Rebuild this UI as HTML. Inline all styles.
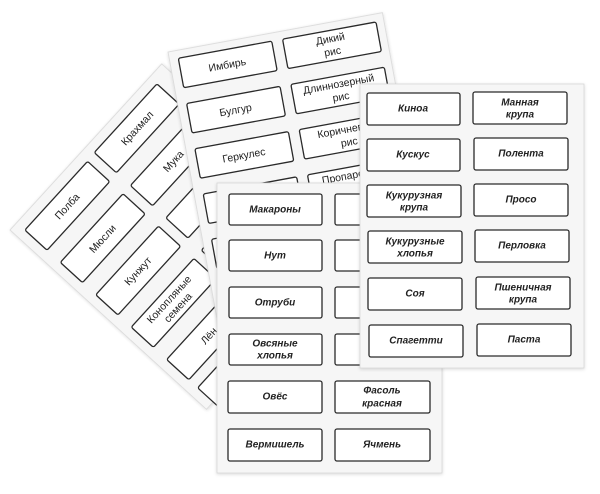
<!DOCTYPE html>
<html><head><meta charset="utf-8"><style>
html,body{margin:0;padding:0;background:#fff;width:600px;height:494px;overflow:hidden}
svg{display:block}
text{font-family:"Liberation Sans","DejaVu Sans",sans-serif;fill:#222;font-size:10.5px;text-anchor:middle;dominant-baseline:middle}
.it{font-style:italic;font-weight:bold;font-size:10px}
.lb{fill:#fff;stroke:#2a2a2a;stroke-width:1.3}
.sh{fill:#f6f6f6;stroke:#d8d8d8;stroke-width:0.8}
</style></head><body>
<svg width="600" height="494" viewBox="0 0 600 494">
<defs><filter id="f" x="-10%" y="-10%" width="120%" height="120%"><feDropShadow dx="0" dy="1" stdDeviation="1.5" flood-color="#000" flood-opacity="0.15"/></filter></defs>

<!-- Sheet A -->
<g transform="translate(10,230) rotate(-47.6)">
<rect class="sh" x="0" y="0" width="225" height="266" filter="url(#f)"/>
<rect class="lb" x="10" y="11" width="93" height="30" rx="2"/><text x="56" y="27">Полба</text>
<rect class="lb" x="114" y="10" width="93" height="30" rx="2"/><text x="161" y="26">Крахмал</text>
<rect class="lb" x="10" y="59" width="93" height="30" rx="2"/><text x="56" y="75">Мюсли</text>
<rect class="lb" x="114" y="59" width="93" height="30" rx="2"/><text x="161" y="75">Мука</text>
<rect class="lb" x="10" y="107" width="93" height="30" rx="2"/><text x="56" y="123">Кунжут</text>
<rect class="lb" x="114" y="107" width="93" height="30" rx="2"/>
<rect class="lb" x="10" y="155" width="93" height="30" rx="2"/><text x="56" y="165">Конопляные</text><text x="56" y="177">семена</text>
<rect class="lb" x="114" y="155" width="93" height="30" rx="2"/>
<rect class="lb" x="10" y="203" width="93" height="30" rx="2"/><text x="56" y="219">Лён</text>
<rect class="lb" x="10" y="245" width="93" height="30" rx="2"/>
</g>

<!-- Sheet B -->
<g transform="translate(168,52) rotate(-10.4)">
<rect class="sh" x="0" y="0" width="218" height="300" filter="url(#f)"/>
<rect class="lb" x="9" y="8" width="95" height="30" rx="2"/><text x="56" y="24">Имбирь</text>
<rect class="lb" x="115" y="8" width="95" height="30" rx="2"/><text x="162" y="17">Дикий</text><text x="162" y="30">рис</text>
<rect class="lb" x="9" y="54" width="95" height="30" rx="2"/><text x="56" y="70">Булгур</text>
<rect class="lb" x="115" y="54" width="95" height="30" rx="2"/><text x="162" y="63">Длиннозерный</text><text x="162" y="76">рис</text>
<rect class="lb" x="9" y="100" width="95" height="30" rx="2"/><text x="56" y="116">Геркулес</text>
<rect class="lb" x="115" y="100" width="95" height="30" rx="2"/><text x="162" y="109">Коричневый</text><text x="162" y="122">рис</text>
<rect class="lb" x="9" y="146" width="95" height="30" rx="2"/>
<rect class="lb" x="115" y="146" width="95" height="30" rx="2"/><text x="162" y="155">Пропаренный</text>
<rect class="lb" x="9" y="192" width="95" height="30" rx="2"/>
<rect class="lb" x="9" y="238" width="95" height="30" rx="2"/>
</g>

<!-- Sheet C -->
<g>
<rect class="sh" x="217" y="183" width="225" height="290" filter="url(#f)"/>
<rect class="lb" x="229" y="194" width="93" height="31" rx="2"/><text class="it" x="275" y="210">Макароны</text>
<rect class="lb" x="335" y="194" width="95" height="31" rx="2"/>
<rect class="lb" x="229" y="240" width="93" height="31" rx="2"/><text class="it" x="275" y="256">Нут</text>
<rect class="lb" x="335" y="240" width="95" height="31" rx="2"/>
<rect class="lb" x="229" y="287" width="93" height="31" rx="2"/><text class="it" x="275" y="303">Отруби</text>
<rect class="lb" x="335" y="287" width="95" height="31" rx="2"/>
<rect class="lb" x="229" y="334" width="93" height="31" rx="2"/><text class="it" x="275" y="344">Овсяные</text><text class="it" x="275" y="356">хлопья</text>
<rect class="lb" x="335" y="334" width="95" height="31" rx="2"/>
<rect class="lb" x="228" y="381" width="94" height="32" rx="2"/><text class="it" x="275" y="397">Овёс</text>
<rect class="lb" x="335" y="381" width="95" height="32" rx="2"/><text class="it" x="382" y="391">Фасоль</text><text class="it" x="382" y="404">красная</text>
<rect class="lb" x="228" y="429" width="94" height="32" rx="2"/><text class="it" x="275" y="445">Вермишель</text>
<rect class="lb" x="335" y="429" width="95" height="32" rx="2"/><text class="it" x="382" y="445">Ячмень</text>
</g>

<!-- Sheet D -->
<g>
<rect class="sh" x="360" y="84" width="224" height="284" filter="url(#f)"/>
<rect class="lb" x="367" y="93" width="93" height="32" rx="2"/><text class="it" x="413" y="109">Киноа</text>
<rect class="lb" x="473" y="92" width="94" height="32" rx="2"/><text class="it" x="520" y="103">Манная</text><text class="it" x="520" y="115">крупа</text>
<rect class="lb" x="367" y="139" width="93" height="32" rx="2"/><text class="it" x="413" y="155">Кускус</text>
<rect class="lb" x="474" y="138" width="94" height="32" rx="2"/><text class="it" x="521" y="154">Полента</text>
<rect class="lb" x="367" y="185" width="94" height="32" rx="2"/><text class="it" x="414" y="196">Кукурузная</text><text class="it" x="414" y="208">крупа</text>
<rect class="lb" x="474" y="184" width="94" height="32" rx="2"/><text class="it" x="521" y="200">Просо</text>
<rect class="lb" x="368" y="231" width="94" height="32" rx="2"/><text class="it" x="415" y="242">Кукурузные</text><text class="it" x="415" y="254">хлопья</text>
<rect class="lb" x="475" y="230" width="94" height="32" rx="2"/><text class="it" x="522" y="246">Перловка</text>
<rect class="lb" x="368" y="278" width="94" height="32" rx="2"/><text class="it" x="415" y="294">Соя</text>
<rect class="lb" x="476" y="277" width="94" height="32" rx="2"/><text class="it" x="523" y="288">Пшеничная</text><text class="it" x="523" y="300">крупа</text>
<rect class="lb" x="369" y="325" width="94" height="32" rx="2"/><text class="it" x="416" y="341">Спагетти</text>
<rect class="lb" x="477" y="324" width="94" height="32" rx="2"/><text class="it" x="524" y="340">Паста</text>
</g>
</svg>
</body></html>
